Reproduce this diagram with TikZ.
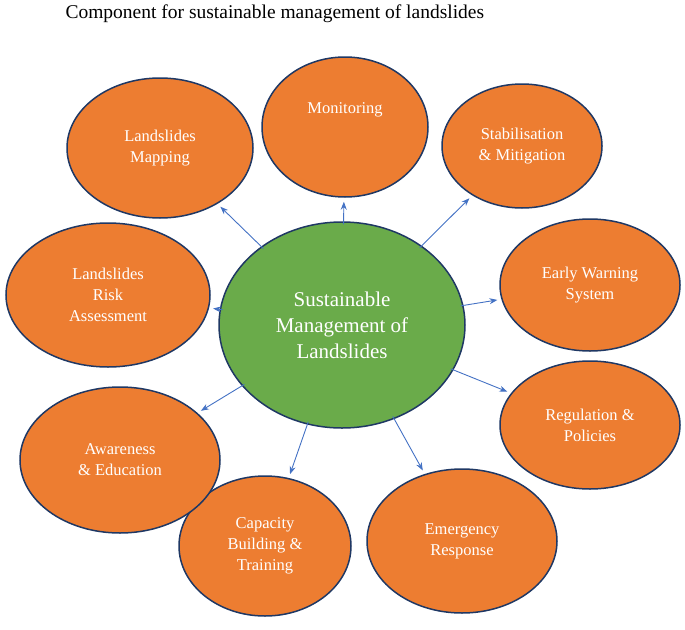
\documentclass[tikz,border=0pt]{standalone}
\usepackage{fontspec}
\setmainfont{Liberation Serif}
\usetikzlibrary{shapes.geometric,arrows.meta}
\definecolor{org}{HTML}{ED7D31}
\definecolor{grn}{HTML}{6AAB4A}
\definecolor{bdr}{HTML}{1F3864}
\definecolor{arc}{HTML}{4472C4}
\begin{document}
\begin{tikzpicture}[x=1pt,y=-1pt,
  outer/.style={ellipse,draw=bdr,line width=1.5pt,fill=org,text=white,font=\fontsize{16.5}{21}\selectfont,align=center,inner sep=0pt},
  arr/.style={-{Stealth[length=8pt,width=6pt]},draw=arc,line width=0.9pt,shorten <=-3pt,shorten >=4pt}]
\useasboundingbox (0,0) rectangle (685,629);
\node[font=\fontsize{19.5}{22}\selectfont,anchor=west] (t) at (62,14) {Component for sustainable management of landslides};
\node[outer,minimum width=186pt,minimum height=140pt] (a) at (160,148) {Landslides\\Mapping};
\node[outer,minimum width=166pt,minimum height=140pt] (b) at (345,127) {Monitoring\\[16pt]};
\node[outer,minimum width=160pt,minimum height=124pt] (s) at (522,146) {Stabilisation\\\& Mitigation};
\node[outer,minimum width=180pt,minimum height=132pt] (e) at (590,285) {Early Warning\\System};
\node[outer,minimum width=180pt,minimum height=128pt] (r) at (590,425) {Regulation \&\\Policies};
\node[outer,minimum width=190pt,minimum height=144pt] (m) at (462,541) {Emergency\\Response};
\node[outer,minimum width=172pt,minimum height=140pt] (c) at (265,546) {Capacity\\Building \&\\Training};
\node[outer,minimum width=200pt,minimum height=146pt] (w) at (120,460) {Awareness\\\& Education};
\node[outer,minimum width=204pt,minimum height=144pt] (k) at (108,295) {Landslides\\Risk\\Assessment};
\node[ellipse,draw=bdr,line width=1.5pt,fill=grn,text=white,font=\fontsize{21}{26}\selectfont,align=center,minimum width=246pt,minimum height=206pt] (z) at (342,325) {Sustainable\\Management of\\Landslides};
\foreach \n in {a,b,s,e,r,m,c,w,k} \draw[arr] (z) -- (\n);
\end{tikzpicture}
\end{document}
